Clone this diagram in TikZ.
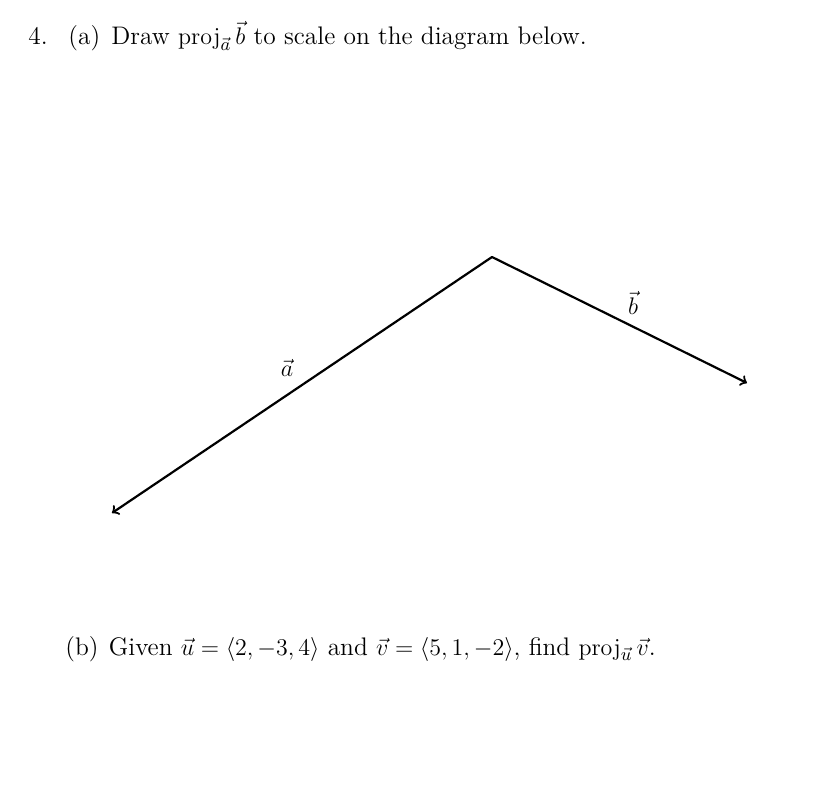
\documentclass[tikz,border=0pt]{standalone}
\usepackage{amsmath}
\usepackage{amssymb}
\usetikzlibrary{positioning}

\begin{document}
\begin{tikzpicture}[x=0.5pt, y=-0.5pt,
    question/.style={font=\fontsize{12.7}{15}\selectfont, inner sep=0pt, anchor=base west},
    vec line/.style={->, line width=1.1pt, line cap=round},
    vec label/.style={font=\fontsize{12.7}{15}\selectfont, inner sep=0pt}
]
\useasboundingbox (0,0) rectangle (818,808);

% Part (a) heading
\node[question] (num) at (28,45) {4.};
\node[question] (parta) at (68,45) {(a)\hspace{1.5pt} Draw $\operatorname{proj}_{\vec a}\vec b$ to scale on the diagram below.};

% Vectors from a common tail
\coordinate (tail) at (492,257);
\coordinate (aend) at (112,513);
\coordinate (bend) at (747,383);
\draw[vec line] (tail) -- (aend);
\draw[vec line] (tail) -- (bend);
\node[vec label] (alabel) at (287,368) {$\vec a$};
\node[vec label] (blabel) at (633,303) {$\vec b$};

% Part (b)
\node[question] (partb) at (65,655) {(b)\hspace{1pt} Given $\vec u=\langle 2,-3,4\rangle$ and $\vec v=\langle 5,1,-2\rangle$, find $\operatorname{proj}_{\vec u}\vec v$.};

\end{tikzpicture}
\end{document}
